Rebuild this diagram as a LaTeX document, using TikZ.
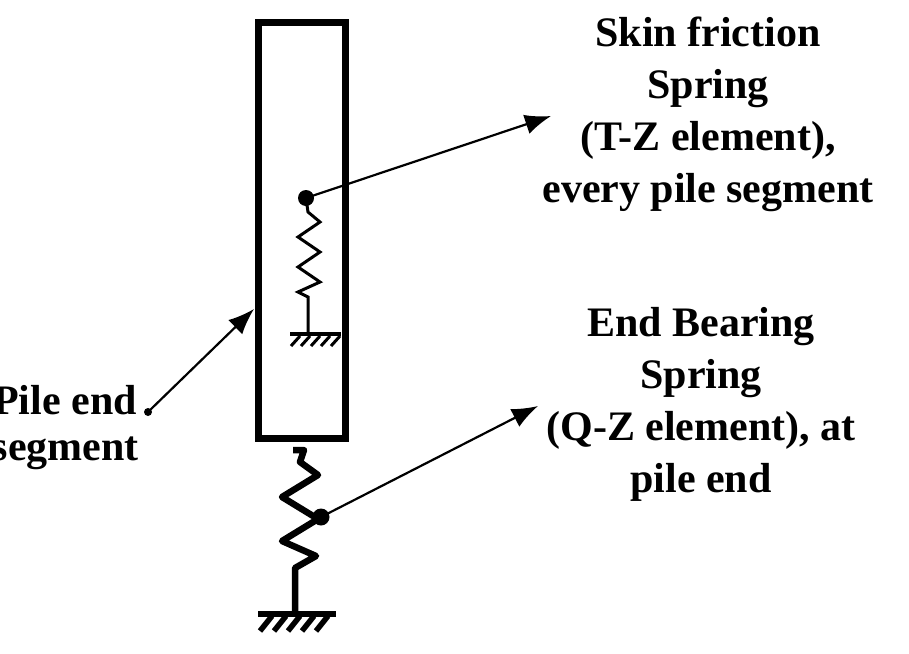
\documentclass[tikz,border=0pt]{standalone}
\usepackage{fontspec}
\setmainfont{Liberation Serif}
\usetikzlibrary{arrows.meta}
\begin{document}
\begin{tikzpicture}[x=1pt,y=-1pt,
  lbl/.style={font=\bfseries\fontsize{42}{52}\selectfont,align=center,inner sep=0},
  arr/.style={line width=2.2pt,-{Latex[length=26pt,width=20pt]}}]
\clip (0,0) rectangle (909,653);
\useasboundingbox (0,0) rectangle (909,653);
% pile box
\draw[line width=7pt] (258,22) rectangle (345,438);
% inner spring
\node[circle,fill,inner sep=0,minimum size=16pt] (d1) at (306,198) {};
\draw[line width=3pt,line join=miter] (306,198) -- (308,212) -- (320,222) -- (298,237) -- (320,252) -- (298,267) -- (320,282) -- (298,292) -- (308,297) -- (308,334);
\draw[line width=3.5pt] (290,334) -- (341,334);
\foreach \x in {300,310,320,330,340} \draw[line width=3pt] (\x,336) -- (\x-9,346);
% bottom spring
\draw[line width=6.5pt,line join=round] (293,450) -- (304,450) -- (300,462) -- (318,475) -- (282,497) -- (318,519) -- (282,541) -- (316,556) -- (295,568) -- (295,614);
\node[circle,fill,inner sep=0,minimum size=17pt] (d2) at (321,517) {};
\draw[line width=6pt] (258,614) -- (336,614);
\foreach \x in {272,286,300,314,328} \draw[line width=5.5pt] (\x,616) -- (\x-12,631);
% left dot
\node[circle,fill,inner sep=0,minimum size=8pt] (d3) at (148,412) {};
% arrows
\coordinate (a1) at (551,116);
\coordinate (a2) at (538,406);
\coordinate (a3) at (254,309);
\draw[arr] (d1.center) -- (a1);
\draw[arr] (d2.center) -- (a2);
\draw[arr] (d3.center) -- (a3);
% labels
\node[lbl] (t1) at (708,114) {Skin friction\\Spring\\(T-Z element),\\every pile segment};
\node[lbl] (t2) at (701,404) {End Bearing\\Spring\\(Q-Z element), at\\pile end};
\node[lbl,anchor=east,align=right] (t3) at (137,400) {Pile end};
\node[lbl,anchor=east,align=right] (t4) at (139,453) {segment};
\end{tikzpicture}
\end{document}
